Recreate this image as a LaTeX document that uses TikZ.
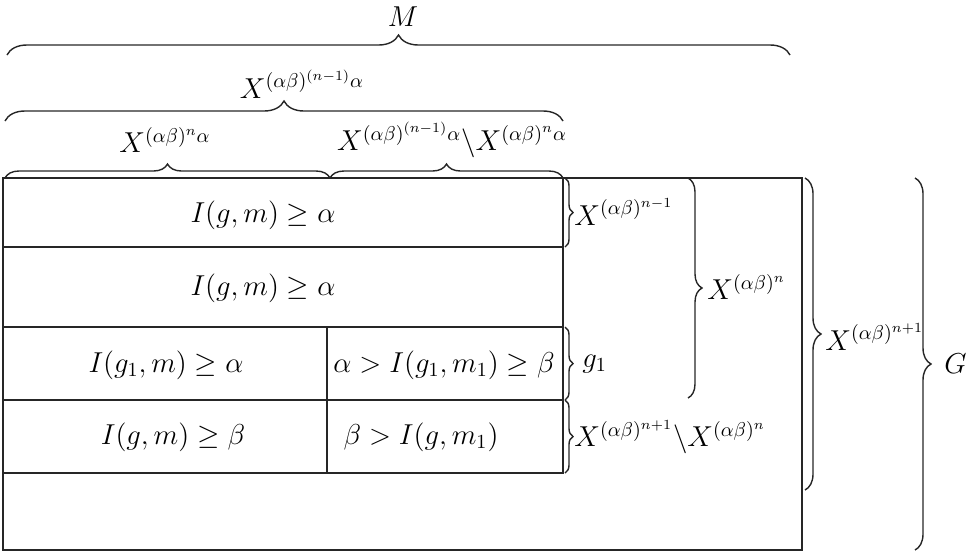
\documentclass[tikz,border=0pt]{standalone}
\usetikzlibrary{decorations.pathreplacing}
\begin{document}
\begin{tikzpicture}[x=0.5pt,y=-0.5pt,
  box/.style={draw=black!85,line width=0.75pt},
  brc/.style={draw=black!85,line width=0.7pt,decorate,decoration={brace,amplitude=#1}},
  brc/.default=6pt,
  lbl/.style={inner sep=1pt,font=\fontsize{14}{17}\selectfont},
  rlbl/.style={lbl,anchor=west,inner sep=0.5pt}]
\useasboundingbox (0,0) rectangle (967,558);
% outer and inner frames
\draw[box] (3,178) rectangle (802,550);
\draw[box] (3,178) rectangle (563,473);
\draw[box] (3,247) -- (563,247);
\draw[box] (3,327) -- (563,327);
\draw[box] (3,400) -- (563,400);
\draw[box] (327,327) -- (327,473);
% cell texts
\node[lbl] (r1) at (263,215) {$I(g,m)\geq\alpha$};
\node[lbl] (r2) at (263,288) {$I(g,m)\geq\alpha$};
\node[lbl] (r3a) at (166,365) {$I(g_1,m)\geq\alpha$};
\node[lbl] (r3b) at (444,365) {$\alpha>I(g_1,m_1)\geq\beta$};
\node[lbl] (r4a) at (173,437) {$I(g,m)\geq\beta$};
\node[lbl] (r4b) at (421,437) {$\beta>I(g,m_1)$};
% top braces
\coordinate (mA) at (7,55); \coordinate (mB) at (790,55);
\draw[brc=10pt] (mA) -- (mB);
\node[lbl] (M) at (403,17) {$M$};
\coordinate (nA) at (5,121); \coordinate (nB) at (563,121);
\draw[brc=10pt] (nA) -- (nB);
\node[lbl] (Xn1a) at (302,84) {$X^{(\alpha\beta)^{(n-1)}\alpha}$};
\coordinate (aA) at (5,178); \coordinate (aB) at (330,178); \coordinate (aC) at (563,178);
\draw[brc=7pt] (aA) -- (aB);
\draw[brc=7pt] (aB) -- (aC);
\node[lbl] (Xna) at (165,140) {$X^{(\alpha\beta)^n\alpha}$};
\node[lbl] (Xdiff) at (452,140) {$X^{(\alpha\beta)^{(n-1)}\alpha}\backslash X^{(\alpha\beta)^n\alpha}$};
% right braces
\coordinate (b1) at (565,178); \coordinate (b2) at (565,247);
\draw[brc=4pt] (b1) -- (b2);
\node[rlbl] (Xnm1) at (573,212) {$X^{(\alpha\beta)^{n-1}}$};
\coordinate (g1a) at (565,327); \coordinate (g1b) at (565,400);
\draw[brc=4pt] (g1a) -- (g1b);
\node[rlbl] (g1) at (581,364) {$g_1$};
\coordinate (d1) at (565,400); \coordinate (d2) at (565,473);
\draw[brc=4pt] (d1) -- (d2);
\node[rlbl] (Xd2) at (573,437) {$X^{(\alpha\beta)^{n+1}}\backslash X^{(\alpha\beta)^n}$};
\coordinate (c1) at (688,178); \coordinate (c2) at (688,398);
\draw[brc=7pt] (c1) -- (c2);
\node[rlbl] (Xn) at (706,287) {$X^{(\alpha\beta)^n}$};
\coordinate (e1) at (805,178); \coordinate (e2) at (805,490);
\draw[brc=8pt] (e1) -- (e2);
\node[rlbl] (Xnp1) at (824,337) {$X^{(\alpha\beta)^{n+1}}$};
\coordinate (f1) at (915,178); \coordinate (f2) at (915,550);
\draw[brc=8pt] (f1) -- (f2);
\node[rlbl] (G) at (943,364) {$G$};
\end{tikzpicture}
\end{document}
